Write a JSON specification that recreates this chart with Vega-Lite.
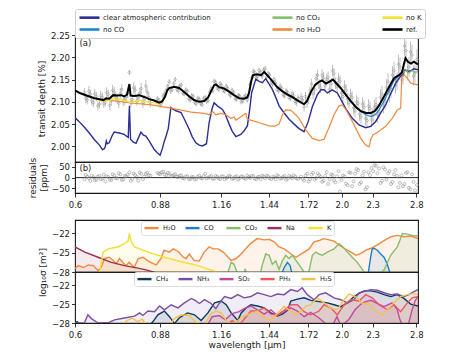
{
"$schema":"https://vega.github.io/schema/vega-lite/v6.json",
"padding":{"left":28,"top":7,"right":5,"bottom":5},
"config":{"font":"DejaVu Sans","view":{"stroke":"#1a1a1a","strokeWidth":1.1},
"axis":{"labelFont":"DejaVu Sans","titleFont":"DejaVu Sans","titleFontWeight":"normal","domain":false,"grid":false,"tickColor":"#222","labelColor":"#222","titleColor":"#222","labelFontSize":8.5,"titleFontSize":9,"tickSize":3.5,"tickWidth":0.9,"labelPadding":2,"titlePadding":4,"labelOverlap":false,"labelFlush":false},
"legend":{"labelFont":"DejaVu Sans","labelColor":"#222"},
"text":{"font":"DejaVu Sans"}},
"datasets":{
"obs":[
{"w":0.626,"d":2.121,"e":0.010,"r":-8},{"w":0.634,"d":2.104,"e":0.010,"r":5},{"w":0.643,"d":2.117,"e":0.011,"r":-15},{"w":0.652,"d":2.098,"e":0.010,"r":2},{"w":0.661,"d":2.112,"e":0.011,"r":-10},{"w":0.670,"d":2.095,"e":0.010,"r":8},{"w":0.679,"d":2.110,"e":0.011,"r":-5},{"w":0.688,"d":2.099,"e":0.010,"r":-18},{"w":0.697,"d":2.116,"e":0.012,"r":3},{"w":0.707,"d":2.103,"e":0.011,"r":-12},{"w":0.716,"d":2.122,"e":0.012,"r":10},{"w":0.726,"d":2.107,"e":0.011,"r":-4},{"w":0.736,"d":2.119,"e":0.012,"r":15},{"w":0.746,"d":2.101,"e":0.011,"r":-9},{"w":0.756,"d":2.112,"e":0.012,"r":6},{"w":0.767,"d":2.166,"e":0.006,"r":25},{"w":0.777,"d":2.105,"e":0.011,"r":-6},{"w":0.787,"d":2.126,"e":0.012,"r":12},{"w":0.798,"d":2.109,"e":0.011,"r":-14},{"w":0.809,"d":2.130,"e":0.013,"r":18},{"w":0.820,"d":2.104,"e":0.012,"r":4},{"w":0.831,"d":2.122,"e":0.012,"r":22},{"w":0.843,"d":2.098,"e":0.011,"r":9},
{"w":0.630,"d":2.108,"e":0.011,"r":12},{"w":0.639,"d":2.124,"e":0.012,"r":-3},{"w":0.647,"d":2.102,"e":0.010,"r":9},{"w":0.656,"d":2.118,"e":0.011,"r":-12},{"w":0.665,"d":2.091,"e":0.010,"r":4},{"w":0.674,"d":2.114,"e":0.011,"r":-7},{"w":0.683,"d":2.096,"e":0.010,"r":14},{"w":0.692,"d":2.121,"e":0.012,"r":6},{"w":0.702,"d":2.092,"e":0.011,"r":-9},{"w":0.711,"d":2.126,"e":0.012,"r":16},{"w":0.721,"d":2.110,"e":0.011,"r":-2},{"w":0.731,"d":2.097,"e":0.011,"r":20},{"w":0.741,"d":2.128,"e":0.012,"r":-11},{"w":0.751,"d":2.104,"e":0.011,"r":8},{"w":0.761,"d":2.120,"e":0.012,"r":13},{"w":0.772,"d":2.098,"e":0.011,"r":-15},{"w":0.782,"d":2.131,"e":0.013,"r":19},{"w":0.793,"d":2.102,"e":0.011,"r":2},{"w":0.804,"d":2.120,"e":0.012,"r":24},{"w":0.815,"d":2.098,"e":0.012,"r":-8},{"w":0.826,"d":2.136,"e":0.013,"r":17},{"w":0.837,"d":2.110,"e":0.012,"r":11},
{"w":0.870,"d":2.107,"e":0.006,"r":22},{"w":0.881,"d":2.092,"e":0.006,"r":16},{"w":0.893,"d":2.113,"e":0.006,"r":28},{"w":0.906,"d":2.126,"e":0.006,"r":12},{"w":0.918,"d":2.145,"e":0.006,"r":20},{"w":0.930,"d":2.128,"e":0.006,"r":8},{"w":0.943,"d":2.150,"e":0.006,"r":15},{"w":0.956,"d":2.125,"e":0.006,"r":2},{"w":0.969,"d":2.138,"e":0.006,"r":10},{"w":0.982,"d":2.118,"e":0.006,"r":-4},{"w":0.996,"d":2.124,"e":0.006,"r":6},{"w":1.009,"d":2.104,"e":0.006,"r":-8},{"w":1.023,"d":2.112,"e":0.006,"r":3},{"w":1.037,"d":2.096,"e":0.006,"r":-6},{"w":1.051,"d":2.106,"e":0.006,"r":9},{"w":1.065,"d":2.094,"e":0.006,"r":-3},{"w":1.080,"d":2.110,"e":0.006,"r":18},{"w":1.094,"d":2.103,"e":0.006,"r":0},{"w":1.109,"d":2.130,"e":0.006,"r":7},{"w":1.124,"d":2.146,"e":0.006,"r":-5},{"w":1.140,"d":2.131,"e":0.006,"r":4},{"w":1.155,"d":2.141,"e":0.006,"r":-7},{"w":1.171,"d":2.126,"e":0.006,"r":5},{"w":1.187,"d":2.135,"e":0.006,"r":-2},{"w":1.203,"d":2.118,"e":0.006,"r":8},{"w":1.219,"d":2.126,"e":0.006,"r":-6},{"w":1.236,"d":2.107,"e":0.006,"r":3},{"w":1.253,"d":2.114,"e":0.006,"r":-9},{"w":1.270,"d":2.100,"e":0.006,"r":6},{"w":1.287,"d":2.111,"e":0.006,"r":-3},{"w":1.305,"d":2.104,"e":0.007,"r":10},{"w":1.322,"d":2.139,"e":0.007,"r":-1},{"w":1.341,"d":2.168,"e":0.007,"r":7},{"w":1.359,"d":2.155,"e":0.007,"r":-8},{"w":1.377,"d":2.170,"e":0.007,"r":4},{"w":1.396,"d":2.158,"e":0.007,"r":9},{"w":1.415,"d":2.174,"e":0.007,"r":-4},{"w":1.434,"d":2.163,"e":0.007,"r":6},{"w":1.454,"d":2.144,"e":0.007,"r":-7},{"w":1.474,"d":2.150,"e":0.007,"r":2},{"w":1.494,"d":2.128,"e":0.007,"r":11},{"w":1.514,"d":2.135,"e":0.007,"r":-5},{"w":1.535,"d":2.116,"e":0.007,"r":3},{"w":1.556,"d":2.124,"e":0.007,"r":-10},{"w":1.577,"d":2.110,"e":0.007,"r":8},{"w":1.598,"d":2.118,"e":0.007,"r":-3},{"w":1.620,"d":2.101,"e":0.008,"r":5},{"w":1.642,"d":2.108,"e":0.008,"r":-6},
{"w":0.876,"d":2.104,"e":0.006,"r":18},{"w":0.887,"d":2.098,"e":0.006,"r":25},{"w":0.899,"d":2.118,"e":0.006,"r":14},{"w":0.912,"d":2.135,"e":0.006,"r":22},{"w":0.924,"d":2.124,"e":0.006,"r":6},{"w":0.937,"d":2.141,"e":0.006,"r":12},{"w":0.950,"d":2.128,"e":0.006,"r":4},{"w":0.962,"d":2.135,"e":0.006,"r":9},{"w":0.976,"d":2.120,"e":0.006,"r":-2},{"w":0.989,"d":2.127,"e":0.006,"r":5},{"w":1.003,"d":2.107,"e":0.006,"r":-5},{"w":1.016,"d":2.114,"e":0.006,"r":2},{"w":1.030,"d":2.099,"e":0.006,"r":-9},{"w":1.044,"d":2.108,"e":0.006,"r":4},{"w":1.058,"d":2.096,"e":0.006,"r":-2},{"w":1.072,"d":2.107,"e":0.006,"r":7},{"w":1.087,"d":2.101,"e":0.006,"r":-4},{"w":1.102,"d":2.122,"e":0.006,"r":3},{"w":1.117,"d":2.125,"e":0.006,"r":-6},{"w":1.132,"d":2.144,"e":0.006,"r":8},{"w":1.148,"d":2.128,"e":0.006,"r":-3},{"w":1.163,"d":2.137,"e":0.006,"r":6},{"w":1.179,"d":2.124,"e":0.006,"r":-8},{"w":1.195,"d":2.130,"e":0.006,"r":2},{"w":1.211,"d":2.114,"e":0.006,"r":5},{"w":1.228,"d":2.121,"e":0.006,"r":-4},{"w":1.244,"d":2.106,"e":0.006,"r":7},{"w":1.261,"d":2.113,"e":0.006,"r":-2},{"w":1.279,"d":2.102,"e":0.006,"r":4},{"w":1.296,"d":2.114,"e":0.006,"r":-6},{"w":1.314,"d":2.112,"e":0.007,"r":3},{"w":1.331,"d":2.154,"e":0.007,"r":8},{"w":1.350,"d":2.166,"e":0.007,"r":-5},{"w":1.368,"d":2.157,"e":0.007,"r":2},{"w":1.387,"d":2.166,"e":0.007,"r":-7},{"w":1.405,"d":2.171,"e":0.007,"r":5},{"w":1.425,"d":2.156,"e":0.007,"r":9},{"w":1.444,"d":2.160,"e":0.007,"r":-3},{"w":1.464,"d":2.140,"e":0.007,"r":4},{"w":1.484,"d":2.142,"e":0.007,"r":-8},{"w":1.504,"d":2.125,"e":0.007,"r":6},{"w":1.525,"d":2.130,"e":0.007,"r":-2},{"w":1.545,"d":2.114,"e":0.007,"r":8},{"w":1.566,"d":2.121,"e":0.007,"r":-5},{"w":1.588,"d":2.108,"e":0.007,"r":3},{"w":1.609,"d":2.114,"e":0.008,"r":10},{"w":1.631,"d":2.099,"e":0.008,"r":-4},
{"w":1.664,"d":2.110,"e":0.010,"r":4},{"w":1.687,"d":2.088,"e":0.010,"r":-14},{"w":1.710,"d":2.097,"e":0.011,"r":18},{"w":1.733,"d":2.125,"e":0.011,"r":-8},{"w":1.757,"d":2.118,"e":0.012,"r":22},{"w":1.781,"d":2.152,"e":0.012,"r":-2},{"w":1.805,"d":2.138,"e":0.012,"r":12},{"w":1.830,"d":2.160,"e":0.013,"r":-20},{"w":1.855,"d":2.136,"e":0.012,"r":8},{"w":1.880,"d":2.155,"e":0.013,"r":-30},{"w":1.906,"d":2.141,"e":0.012,"r":15},{"w":1.931,"d":2.163,"e":0.013,"r":-12},{"w":1.958,"d":2.134,"e":0.013,"r":6},{"w":1.984,"d":2.146,"e":0.013,"r":-65},{"w":2.011,"d":2.112,"e":0.013,"r":10},{"w":2.039,"d":2.126,"e":0.014,"r":-28},{"w":2.067,"d":2.098,"e":0.013,"r":25},{"w":2.095,"d":2.110,"e":0.014,"r":-40},{"w":2.123,"d":2.080,"e":0.014,"r":18},{"w":2.152,"d":2.096,"e":0.015,"r":35},{"w":2.181,"d":2.066,"e":0.015,"r":-22},{"w":2.211,"d":2.088,"e":0.015,"r":28},{"w":2.241,"d":2.058,"e":0.016,"r":-45},{"w":2.272,"d":2.085,"e":0.016,"r":12},{"w":2.303,"d":2.069,"e":0.016,"r":30},{"w":2.334,"d":2.094,"e":0.017,"r":55},{"w":2.366,"d":2.078,"e":0.017,"r":42},{"w":2.398,"d":2.118,"e":0.018,"r":-15},{"w":2.431,"d":2.101,"e":0.018,"r":38},{"w":2.464,"d":2.145,"e":0.019,"r":20},{"w":2.497,"d":2.128,"e":0.019,"r":-30},{"w":2.531,"d":2.170,"e":0.020,"r":15},{"w":2.566,"d":2.146,"e":0.020,"r":8},{"w":2.601,"d":2.178,"e":0.021,"r":-25},{"w":2.636,"d":2.160,"e":0.021,"r":-40},{"w":2.672,"d":2.215,"e":0.022,"r":22},{"w":2.708,"d":2.178,"e":0.022,"r":-48},{"w":2.745,"d":2.205,"e":0.023,"r":15},{"w":2.783,"d":2.165,"e":0.023,"r":-60},{"w":2.808,"d":2.195,"e":0.023,"r":-35},
{"w":1.676,"d":2.104,"e":0.010,"r":-6},{"w":1.698,"d":2.112,"e":0.011,"r":10},{"w":1.722,"d":2.108,"e":0.011,"r":-18},{"w":1.745,"d":2.140,"e":0.012,"r":14},{"w":1.769,"d":2.128,"e":0.012,"r":-10},{"w":1.793,"d":2.160,"e":0.012,"r":20},{"w":1.817,"d":2.132,"e":0.012,"r":3},{"w":1.842,"d":2.154,"e":0.013,"r":-15},{"w":1.868,"d":2.150,"e":0.013,"r":26},{"w":1.893,"d":2.128,"e":0.012,"r":-8},{"w":1.919,"d":2.170,"e":0.013,"r":12},{"w":1.944,"d":2.142,"e":0.013,"r":-22},{"w":1.971,"d":2.152,"e":0.013,"r":30},{"w":1.997,"d":2.120,"e":0.013,"r":-12},{"w":2.025,"d":2.134,"e":0.014,"r":5},{"w":2.053,"d":2.106,"e":0.014,"r":-35},{"w":2.081,"d":2.116,"e":0.014,"r":22},{"w":2.109,"d":2.086,"e":0.014,"r":-18},{"w":2.138,"d":2.100,"e":0.015,"r":40},{"w":2.167,"d":2.072,"e":0.015,"r":-30},{"w":2.196,"d":2.095,"e":0.015,"r":10},{"w":2.226,"d":2.063,"e":0.016,"r":-55},{"w":2.256,"d":2.090,"e":0.016,"r":25},{"w":2.287,"d":2.060,"e":0.016,"r":45},{"w":2.318,"d":2.088,"e":0.017,"r":58},{"w":2.350,"d":2.070,"e":0.017,"r":20},{"w":2.382,"d":2.110,"e":0.018,"r":-25},{"w":2.414,"d":2.092,"e":0.018,"r":48},{"w":2.447,"d":2.132,"e":0.019,"r":-10},{"w":2.481,"d":2.118,"e":0.019,"r":30},{"w":2.514,"d":2.160,"e":0.020,"r":-20},{"w":2.548,"d":2.138,"e":0.020,"r":35},{"w":2.583,"d":2.185,"e":0.021,"r":-45},{"w":2.619,"d":2.150,"e":0.021,"r":10},{"w":2.654,"d":2.225,"e":0.022,"r":-30},{"w":2.690,"d":2.170,"e":0.022,"r":25},{"w":2.727,"d":2.212,"e":0.023,"r":-55},{"w":2.764,"d":2.158,"e":0.023,"r":-20}
],
"amod":[
{"w":0.600,"v":2.065,"s":"clear"},{"w":0.612,"v":2.055,"s":"clear"},{"w":0.626,"v":2.043,"s":"clear"},{"w":0.640,"v":2.030,"s":"clear"},{"w":0.655,"v":2.015,"s":"clear"},{"w":0.670,"v":2.003,"s":"clear"},{"w":0.679,"v":1.993,"s":"clear"},{"w":0.685,"v":1.995,"s":"clear"},{"w":0.688,"v":2.000,"s":"clear"},{"w":0.691,"v":2.012,"s":"clear"},{"w":0.694,"v":2.006,"s":"clear"},{"w":0.700,"v":2.008,"s":"clear"},{"w":0.710,"v":2.025,"s":"clear"},{"w":0.716,"v":2.032,"s":"clear"},{"w":0.733,"v":2.030,"s":"clear"},{"w":0.749,"v":2.027,"s":"clear"},{"w":0.763,"v":2.020,"s":"clear"},{"w":0.767,"v":2.091,"s":"clear"},{"w":0.771,"v":2.016,"s":"clear"},{"w":0.780,"v":2.010,"s":"clear"},{"w":0.790,"v":2.007,"s":"clear"},{"w":0.798,"v":2.018,"s":"clear"},{"w":0.808,"v":2.032,"s":"clear"},{"w":0.816,"v":2.026,"s":"clear"},{"w":0.826,"v":2.023,"s":"clear"},{"w":0.839,"v":2.012,"s":"clear"},{"w":0.858,"v":1.993,"s":"clear"},{"w":0.870,"v":1.986,"s":"clear"},{"w":0.881,"v":1.980,"s":"clear"},{"w":0.890,"v":1.995,"s":"clear"},{"w":0.897,"v":2.010,"s":"clear"},{"w":0.906,"v":2.025,"s":"clear"},{"w":0.914,"v":2.040,"s":"clear"},{"w":0.925,"v":2.087,"s":"clear"},{"w":0.935,"v":2.083,"s":"clear"},{"w":0.946,"v":2.080,"s":"clear"},{"w":0.968,"v":2.076,"s":"clear"},{"w":0.982,"v":2.062,"s":"clear"},{"w":1.005,"v":2.038,"s":"clear"},{"w":1.018,"v":2.022,"s":"clear"},{"w":1.035,"v":2.008,"s":"clear"},{"w":1.051,"v":2.003,"s":"clear"},{"w":1.066,"v":2.001,"s":"clear"},{"w":1.086,"v":2.006,"s":"clear"},{"w":1.099,"v":2.053,"s":"clear"},{"w":1.114,"v":2.085,"s":"clear"},{"w":1.124,"v":2.098,"s":"clear"},{"w":1.141,"v":2.091,"s":"clear"},{"w":1.150,"v":2.088,"s":"clear"},{"w":1.167,"v":2.083,"s":"clear"},{"w":1.182,"v":2.072,"s":"clear"},{"w":1.203,"v":2.050,"s":"clear"},{"w":1.219,"v":2.035,"s":"clear"},{"w":1.240,"v":2.022,"s":"clear"},{"w":1.268,"v":2.027,"s":"clear"},{"w":1.287,"v":2.035,"s":"clear"},{"w":1.306,"v":2.046,"s":"clear"},{"w":1.319,"v":2.080,"s":"clear"},{"w":1.332,"v":2.121,"s":"clear"},{"w":1.357,"v":2.151,"s":"clear"},{"w":1.377,"v":2.146,"s":"clear"},{"w":1.398,"v":2.143,"s":"clear"},{"w":1.419,"v":2.152,"s":"clear"},{"w":1.441,"v":2.140,"s":"clear"},{"w":1.462,"v":2.128,"s":"clear"},{"w":1.485,"v":2.110,"s":"clear"},{"w":1.507,"v":2.091,"s":"clear"},{"w":1.542,"v":2.075,"s":"clear"},{"w":1.577,"v":2.061,"s":"clear"},{"w":1.613,"v":2.050,"s":"clear"},{"w":1.649,"v":2.040,"s":"clear"},{"w":1.687,"v":2.033,"s":"clear"},{"w":1.718,"v":2.055,"s":"clear"},{"w":1.751,"v":2.089,"s":"clear"},{"w":1.791,"v":2.116,"s":"clear"},{"w":1.821,"v":2.127,"s":"clear"},{"w":1.846,"v":2.127,"s":"clear"},{"w":1.874,"v":2.120,"s":"clear"},{"w":1.916,"v":2.127,"s":"clear"},{"w":1.960,"v":2.120,"s":"clear"},{"w":1.993,"v":2.105,"s":"clear"},{"w":2.036,"v":2.085,"s":"clear"},{"w":2.097,"v":2.063,"s":"clear"},{"w":2.162,"v":2.048,"s":"clear"},{"w":2.228,"v":2.042,"s":"clear"},{"w":2.279,"v":2.045,"s":"clear"},{"w":2.331,"v":2.056,"s":"clear"},{"w":2.384,"v":2.075,"s":"clear"},{"w":2.438,"v":2.093,"s":"clear"},{"w":2.494,"v":2.118,"s":"clear"},{"w":2.551,"v":2.142,"s":"clear"},{"w":2.609,"v":2.158,"s":"clear"},{"w":2.636,"v":2.161,"s":"clear"},{"w":2.660,"v":2.172,"s":"clear"},{"w":2.696,"v":2.168,"s":"clear"},{"w":2.733,"v":2.170,"s":"clear"},{"w":2.770,"v":2.174,"s":"clear"},{"w":2.821,"v":2.172,"s":"clear"},
{"w":0.600,"v":2.126,"s":"noH2O"},{"w":0.612,"v":2.120,"s":"noH2O"},{"w":0.626,"v":2.116,"s":"noH2O"},{"w":0.640,"v":2.112,"s":"noH2O"},{"w":0.655,"v":2.108,"s":"noH2O"},{"w":0.670,"v":2.106,"s":"noH2O"},{"w":0.700,"v":2.104,"s":"noH2O"},{"w":0.766,"v":2.098,"s":"noH2O"},{"w":0.846,"v":2.093,"s":"noH2O"},{"w":0.926,"v":2.086,"s":"noH2O"},{"w":1.014,"v":2.077,"s":"noH2O"},{"w":1.075,"v":2.074,"s":"noH2O"},{"w":1.099,"v":2.071,"s":"noH2O"},{"w":1.116,"v":2.078,"s":"noH2O"},{"w":1.133,"v":2.071,"s":"noH2O"},{"w":1.159,"v":2.074,"s":"noH2O"},{"w":1.185,"v":2.071,"s":"noH2O"},{"w":1.212,"v":2.063,"s":"noH2O"},{"w":1.230,"v":2.066,"s":"noH2O"},{"w":1.240,"v":2.059,"s":"noH2O"},{"w":1.259,"v":2.064,"s":"noH2O"},{"w":1.283,"v":2.071,"s":"noH2O"},{"w":1.297,"v":2.074,"s":"noH2O"},{"w":1.306,"v":2.061,"s":"noH2O"},{"w":1.336,"v":2.058,"s":"noH2O"},{"w":1.388,"v":2.052,"s":"noH2O"},{"w":1.441,"v":2.046,"s":"noH2O"},{"w":1.474,"v":2.045,"s":"noH2O"},{"w":1.507,"v":2.050,"s":"noH2O"},{"w":1.530,"v":2.071,"s":"noH2O"},{"w":1.553,"v":2.082,"s":"noH2O"},{"w":1.589,"v":2.081,"s":"noH2O"},{"w":1.625,"v":2.071,"s":"noH2O"},{"w":1.649,"v":2.063,"s":"noH2O"},{"w":1.700,"v":2.037,"s":"noH2O"},{"w":1.751,"v":2.018,"s":"noH2O"},{"w":1.805,"v":2.013,"s":"noH2O"},{"w":1.846,"v":2.016,"s":"noH2O"},{"w":1.903,"v":2.052,"s":"noH2O"},{"w":1.931,"v":2.071,"s":"noH2O"},{"w":1.975,"v":2.091,"s":"noH2O"},{"w":2.005,"v":2.093,"s":"noH2O"},{"w":2.036,"v":2.083,"s":"noH2O"},{"w":2.082,"v":2.063,"s":"noH2O"},{"w":2.130,"v":2.041,"s":"noH2O"},{"w":2.178,"v":2.018,"s":"noH2O"},{"w":2.228,"v":2.003,"s":"noH2O"},{"w":2.262,"v":1.999,"s":"noH2O"},{"w":2.279,"v":2.015,"s":"noH2O"},{"w":2.302,"v":2.026,"s":"noH2O"},{"w":2.331,"v":2.029,"s":"noH2O"},{"w":2.384,"v":2.037,"s":"noH2O"},{"w":2.438,"v":2.045,"s":"noH2O"},{"w":2.512,"v":2.063,"s":"noH2O"},{"w":2.569,"v":2.082,"s":"noH2O"},{"w":2.609,"v":2.086,"s":"noH2O"},{"w":2.621,"v":2.153,"s":"noH2O"},{"w":2.648,"v":2.161,"s":"noH2O"},{"w":2.688,"v":2.153,"s":"noH2O"},{"w":2.729,"v":2.142,"s":"noH2O"},{"w":2.821,"v":2.138,"s":"noH2O"},
{"w":2.133,"v":2.088,"s":"noCO"},{"w":2.181,"v":2.078,"s":"noCO"},{"w":2.231,"v":2.071,"s":"noCO"},{"w":2.282,"v":2.067,"s":"noCO"},{"w":2.324,"v":2.071,"s":"noCO"},{"w":2.366,"v":2.082,"s":"noCO"},{"w":2.420,"v":2.102,"s":"noCO"},{"w":2.475,"v":2.125,"s":"noCO"},{"w":2.531,"v":2.148,"s":"noCO"},{"w":2.589,"v":2.158,"s":"noCO"},
{"w":2.475,"v":2.133,"s":"noCO2"},{"w":2.531,"v":2.152,"s":"noCO2"},{"w":2.589,"v":2.159,"s":"noCO2"},{"w":2.624,"v":2.163,"s":"noCO2"},{"w":2.648,"v":2.168,"s":"noCO2"},{"w":2.672,"v":2.170,"s":"noCO2"},{"w":2.708,"v":2.165,"s":"noCO2"},{"w":2.745,"v":2.170,"s":"noCO2"},{"w":2.783,"v":2.166,"s":"noCO2"},{"w":2.821,"v":2.168,"s":"noCO2"},
{"w":0.655,"v":2.108,"s":"noK"},{"w":0.670,"v":2.104,"s":"noK"},{"w":0.682,"v":2.100,"s":"noK"},{"w":0.691,"v":2.103,"s":"noK"},{"w":0.700,"v":2.102,"s":"noK"},{"w":0.713,"v":2.107,"s":"noK"},{"w":0.726,"v":2.106,"s":"noK"},{"w":0.739,"v":2.106,"s":"noK"},{"w":0.749,"v":2.102,"s":"noK"},{"w":0.759,"v":2.101,"s":"noK"},{"w":0.770,"v":2.099,"s":"noK"},{"w":0.784,"v":2.101,"s":"noK"},{"w":0.802,"v":2.104,"s":"noK"},{"w":0.820,"v":2.101,"s":"noK"},{"w":0.839,"v":2.099,"s":"noK"},{"w":0.858,"v":2.098,"s":"noK"},{"w":0.877,"v":2.095,"s":"noK"},{"w":0.889,"v":2.099,"s":"noK"},{"w":0.901,"v":2.110,"s":"noK"},{"w":0.910,"v":2.126,"s":"noK"},{"w":0.918,"v":2.131,"s":"noK"},
{"w":0.600,"v":2.126,"s":"ref"},{"w":0.612,"v":2.120,"s":"ref"},{"w":0.626,"v":2.116,"s":"ref"},{"w":0.640,"v":2.112,"s":"ref"},{"w":0.655,"v":2.108,"s":"ref"},{"w":0.670,"v":2.106,"s":"ref"},{"w":0.682,"v":2.104,"s":"ref"},{"w":0.691,"v":2.108,"s":"ref"},{"w":0.700,"v":2.107,"s":"ref"},{"w":0.713,"v":2.115,"s":"ref"},{"w":0.726,"v":2.114,"s":"ref"},{"w":0.739,"v":2.115,"s":"ref"},{"w":0.749,"v":2.112,"s":"ref"},{"w":0.759,"v":2.116,"s":"ref"},{"w":0.767,"v":2.140,"s":"ref"},{"w":0.771,"v":2.114,"s":"ref"},{"w":0.784,"v":2.113,"s":"ref"},{"w":0.802,"v":2.115,"s":"ref"},{"w":0.820,"v":2.111,"s":"ref"},{"w":0.839,"v":2.106,"s":"ref"},{"w":0.858,"v":2.103,"s":"ref"},{"w":0.877,"v":2.098,"s":"ref"},{"w":0.889,"v":2.101,"s":"ref"},{"w":0.901,"v":2.112,"s":"ref"},{"w":0.910,"v":2.126,"s":"ref"},{"w":0.918,"v":2.131,"s":"ref"},{"w":0.939,"v":2.134,"s":"ref"},{"w":0.960,"v":2.131,"s":"ref"},{"w":0.982,"v":2.122,"s":"ref"},{"w":1.005,"v":2.112,"s":"ref"},{"w":1.027,"v":2.104,"s":"ref"},{"w":1.051,"v":2.100,"s":"ref"},{"w":1.075,"v":2.102,"s":"ref"},{"w":1.094,"v":2.110,"s":"ref"},{"w":1.109,"v":2.124,"s":"ref"},{"w":1.124,"v":2.137,"s":"ref"},{"w":1.134,"v":2.139,"s":"ref"},{"w":1.150,"v":2.133,"s":"ref"},{"w":1.176,"v":2.130,"s":"ref"},{"w":1.203,"v":2.123,"s":"ref"},{"w":1.230,"v":2.115,"s":"ref"},{"w":1.259,"v":2.108,"s":"ref"},{"w":1.287,"v":2.107,"s":"ref"},{"w":1.305,"v":2.110,"s":"ref"},{"w":1.316,"v":2.120,"s":"ref"},{"w":1.328,"v":2.145,"s":"ref"},{"w":1.340,"v":2.160,"s":"ref"},{"w":1.365,"v":2.162,"s":"ref"},{"w":1.390,"v":2.160,"s":"ref"},{"w":1.409,"v":2.167,"s":"ref"},{"w":1.428,"v":2.160,"s":"ref"},{"w":1.454,"v":2.150,"s":"ref"},{"w":1.494,"v":2.133,"s":"ref"},{"w":1.528,"v":2.124,"s":"ref"},{"w":1.563,"v":2.117,"s":"ref"},{"w":1.598,"v":2.111,"s":"ref"},{"w":1.635,"v":2.104,"s":"ref"},{"w":1.672,"v":2.097,"s":"ref"},{"w":1.687,"v":2.095,"s":"ref"},{"w":1.710,"v":2.102,"s":"ref"},{"w":1.741,"v":2.123,"s":"ref"},{"w":1.773,"v":2.138,"s":"ref"},{"w":1.805,"v":2.145,"s":"ref"},{"w":1.829,"v":2.148,"s":"ref"},{"w":1.863,"v":2.141,"s":"ref"},{"w":1.888,"v":2.145,"s":"ref"},{"w":1.922,"v":2.150,"s":"ref"},{"w":1.957,"v":2.140,"s":"ref"},{"w":1.993,"v":2.130,"s":"ref"},{"w":2.039,"v":2.115,"s":"ref"},{"w":2.085,"v":2.101,"s":"ref"},{"w":2.133,"v":2.088,"s":"ref"},{"w":2.181,"v":2.079,"s":"ref"},{"w":2.231,"v":2.075,"s":"ref"},{"w":2.282,"v":2.075,"s":"ref"},{"w":2.324,"v":2.080,"s":"ref"},{"w":2.366,"v":2.092,"s":"ref"},{"w":2.420,"v":2.112,"s":"ref"},{"w":2.475,"v":2.133,"s":"ref"},{"w":2.531,"v":2.153,"s":"ref"},{"w":2.589,"v":2.160,"s":"ref"},{"w":2.624,"v":2.166,"s":"ref"},{"w":2.648,"v":2.185,"s":"ref"},{"w":2.666,"v":2.198,"s":"ref"},{"w":2.696,"v":2.190,"s":"ref"},{"w":2.733,"v":2.186,"s":"ref"},{"w":2.770,"v":2.190,"s":"ref"},{"w":2.821,"v":2.184,"s":"ref"}
],
"csp":[
{"w":0.600,"v":-27.5,"sp":"H₂O"},{"w":0.609,"v":-27.0,"sp":"H₂O"},{"w":0.623,"v":-27.3,"sp":"H₂O"},{"w":0.637,"v":-26.9,"sp":"H₂O"},{"w":0.652,"v":-27.0,"sp":"H₂O"},{"w":0.666,"v":-27.8,"sp":"H₂O"},{"w":0.676,"v":-27.2,"sp":"H₂O"},{"w":0.685,"v":-25.9,"sp":"H₂O"},{"w":0.700,"v":-25.7,"sp":"H₂O"},{"w":0.713,"v":-26.2,"sp":"H₂O"},{"w":0.723,"v":-26.7,"sp":"H₂O"},{"w":0.733,"v":-25.9,"sp":"H₂O"},{"w":0.746,"v":-26.6,"sp":"H₂O"},{"w":0.756,"v":-27.0,"sp":"H₂O"},{"w":0.766,"v":-26.5,"sp":"H₂O"},{"w":0.784,"v":-27.3,"sp":"H₂O"},{"w":0.798,"v":-25.9,"sp":"H₂O"},{"w":0.816,"v":-25.7,"sp":"H₂O"},{"w":0.835,"v":-26.3,"sp":"H₂O"},{"w":0.854,"v":-26.7,"sp":"H₂O"},{"w":0.866,"v":-26.9,"sp":"H₂O"},{"w":0.885,"v":-25.9,"sp":"H₂O"},{"w":0.897,"v":-24.6,"sp":"H₂O"},{"w":0.918,"v":-24.9,"sp":"H₂O"},{"w":0.935,"v":-24.4,"sp":"H₂O"},{"w":0.956,"v":-24.8,"sp":"H₂O"},{"w":0.978,"v":-25.7,"sp":"H₂O"},{"w":0.991,"v":-25.9,"sp":"H₂O"},{"w":1.005,"v":-25.2,"sp":"H₂O"},{"w":1.027,"v":-26.2,"sp":"H₂O"},{"w":1.051,"v":-26.3,"sp":"H₂O"},{"w":1.075,"v":-24.9,"sp":"H₂O"},{"w":1.099,"v":-24.1,"sp":"H₂O"},{"w":1.119,"v":-24.4,"sp":"H₂O"},{"w":1.145,"v":-24.4,"sp":"H₂O"},{"w":1.171,"v":-24.9,"sp":"H₂O"},{"w":1.198,"v":-25.7,"sp":"H₂O"},{"w":1.214,"v":-26.2,"sp":"H₂O"},{"w":1.242,"v":-25.9,"sp":"H₂O"},{"w":1.270,"v":-25.2,"sp":"H₂O"},{"w":1.299,"v":-24.3,"sp":"H₂O"},{"w":1.328,"v":-23.5,"sp":"H₂O"},{"w":1.365,"v":-22.8,"sp":"H₂O"},{"w":1.409,"v":-23.0,"sp":"H₂O"},{"w":1.441,"v":-22.9,"sp":"H₂O"},{"w":1.474,"v":-23.3,"sp":"H₂O"},{"w":1.507,"v":-24.1,"sp":"H₂O"},{"w":1.542,"v":-24.4,"sp":"H₂O"},{"w":1.591,"v":-25.2,"sp":"H₂O"},{"w":1.627,"v":-25.7,"sp":"H₂O"},{"w":1.649,"v":-25.4,"sp":"H₂O"},{"w":1.687,"v":-24.9,"sp":"H₂O"},{"w":1.726,"v":-24.4,"sp":"H₂O"},{"w":1.765,"v":-23.3,"sp":"H₂O"},{"w":1.805,"v":-23.1,"sp":"H₂O"},{"w":1.846,"v":-22.8,"sp":"H₂O"},{"w":1.888,"v":-23.0,"sp":"H₂O"},{"w":1.931,"v":-23.2,"sp":"H₂O"},{"w":1.975,"v":-23.8,"sp":"H₂O"},{"w":2.021,"v":-24.3,"sp":"H₂O"},{"w":2.085,"v":-24.9,"sp":"H₂O"},{"w":2.133,"v":-25.4,"sp":"H₂O"},{"w":2.181,"v":-25.1,"sp":"H₂O"},{"w":2.231,"v":-24.6,"sp":"H₂O"},{"w":2.282,"v":-24.3,"sp":"H₂O"},{"w":2.345,"v":-23.8,"sp":"H₂O"},{"w":2.420,"v":-23.1,"sp":"H₂O"},{"w":2.497,"v":-22.5,"sp":"H₂O"},{"w":2.566,"v":-22.3,"sp":"H₂O"},{"w":2.648,"v":-22.5,"sp":"H₂O"},{"w":2.733,"v":-22.4,"sp":"H₂O"},{"w":2.821,"v":-22.8,"sp":"H₂O"},
{"w":1.521,"v":-28.5,"sp":"CO"},{"w":1.542,"v":-27.3,"sp":"CO"},{"w":1.565,"v":-26.5,"sp":"CO"},{"w":1.584,"v":-27.0,"sp":"CO"},{"w":1.600,"v":-28.5,"sp":"CO"},{"w":2.251,"v":-28.5,"sp":"CO"},{"w":2.279,"v":-25.6,"sp":"CO"},{"w":2.295,"v":-24.4,"sp":"CO"},{"w":2.313,"v":-24.3,"sp":"CO"},{"w":2.348,"v":-24.6,"sp":"CO"},{"w":2.384,"v":-25.2,"sp":"CO"},{"w":2.420,"v":-25.7,"sp":"CO"},{"w":2.456,"v":-26.8,"sp":"CO"},{"w":2.494,"v":-28.5,"sp":"CO"},
{"w":1.182,"v":-28.5,"sp":"CO₂"},{"w":1.198,"v":-27.9,"sp":"CO₂"},{"w":1.214,"v":-26.5,"sp":"CO₂"},{"w":1.230,"v":-26.8,"sp":"CO₂"},{"w":1.253,"v":-28.5,"sp":"CO₂"},{"w":1.281,"v":-28.5,"sp":"CO₂"},{"w":1.293,"v":-27.6,"sp":"CO₂"},{"w":1.311,"v":-28.5,"sp":"CO₂"},{"w":1.383,"v":-28.5,"sp":"CO₂"},{"w":1.396,"v":-27.0,"sp":"CO₂"},{"w":1.419,"v":-25.2,"sp":"CO₂"},{"w":1.441,"v":-25.4,"sp":"CO₂"},{"w":1.462,"v":-26.8,"sp":"CO₂"},{"w":1.485,"v":-26.3,"sp":"CO₂"},{"w":1.507,"v":-27.6,"sp":"CO₂"},{"w":1.530,"v":-26.2,"sp":"CO₂"},{"w":1.553,"v":-25.4,"sp":"CO₂"},{"w":1.577,"v":-25.9,"sp":"CO₂"},{"w":1.600,"v":-25.4,"sp":"CO₂"},{"w":1.637,"v":-26.5,"sp":"CO₂"},{"w":1.674,"v":-27.6,"sp":"CO₂"},{"w":1.700,"v":-28.5,"sp":"CO₂"},{"w":1.726,"v":-27.8,"sp":"CO₂"},{"w":1.751,"v":-25.4,"sp":"CO₂"},{"w":1.778,"v":-24.9,"sp":"CO₂"},{"w":1.805,"v":-25.2,"sp":"CO₂"},{"w":1.832,"v":-25.4,"sp":"CO₂"},{"w":1.874,"v":-24.9,"sp":"CO₂"},{"w":1.931,"v":-24.4,"sp":"CO₂"},{"w":1.975,"v":-23.6,"sp":"CO₂"},{"w":2.005,"v":-24.0,"sp":"CO₂"},{"w":2.051,"v":-24.9,"sp":"CO₂"},{"w":2.097,"v":-25.7,"sp":"CO₂"},{"w":2.145,"v":-26.5,"sp":"CO₂"},{"w":2.194,"v":-27.6,"sp":"CO₂"},{"w":2.231,"v":-28.5,"sp":"CO₂"},{"w":2.345,"v":-28.5,"sp":"CO₂"},{"w":2.420,"v":-27.7,"sp":"CO₂"},{"w":2.494,"v":-25.4,"sp":"CO₂"},{"w":2.569,"v":-24.1,"sp":"CO₂"},{"w":2.601,"v":-23.0,"sp":"CO₂"},{"w":2.628,"v":-22.0,"sp":"CO₂"},{"w":2.688,"v":-22.1,"sp":"CO₂"},{"w":2.749,"v":-22.3,"sp":"CO₂"},{"w":2.821,"v":-22.4,"sp":"CO₂"},
{"w":0.600,"v":-24.1,"sp":"Na"},{"w":0.627,"v":-24.9,"sp":"Na"},{"w":0.666,"v":-25.7,"sp":"Na"},{"w":0.707,"v":-26.5,"sp":"Na"},{"w":0.750,"v":-27.0,"sp":"Na"},{"w":0.797,"v":-27.4,"sp":"Na"},{"w":0.831,"v":-27.7,"sp":"Na"},{"w":0.859,"v":-28.05,"sp":"Na"},{"w":0.897,"v":-28.5,"sp":"Na"},
{"w":0.664,"v":-28.5,"sp":"K"},{"w":0.671,"v":-28.0,"sp":"K"},{"w":0.681,"v":-24.9,"sp":"K"},{"w":0.696,"v":-24.4,"sp":"K"},{"w":0.728,"v":-24.1,"sp":"K"},{"w":0.750,"v":-23.6,"sp":"K"},{"w":0.762,"v":-23.2,"sp":"K"},{"w":0.767,"v":-22.0,"sp":"K"},{"w":0.773,"v":-23.3,"sp":"K"},{"w":0.785,"v":-24.1,"sp":"K"},{"w":0.834,"v":-24.9,"sp":"K"},{"w":0.898,"v":-25.7,"sp":"K"},{"w":0.969,"v":-26.4,"sp":"K"},{"w":1.045,"v":-27.0,"sp":"K"},{"w":1.109,"v":-27.7,"sp":"K"},{"w":1.145,"v":-28.05,"sp":"K"},{"w":1.176,"v":-28.5,"sp":"K"}
],
"dsp":[
{"w":0.600,"v":-28.0,"sp":"CH₄"},{"w":0.606,"v":-27.8,"sp":"CH₄"},{"w":0.617,"v":-28.5,"sp":"CH₄"},{"w":0.839,"v":-28.5,"sp":"CH₄"},{"w":0.858,"v":-27.5,"sp":"CH₄"},{"w":0.872,"v":-26.7,"sp":"CH₄"},{"w":0.898,"v":-26.1,"sp":"CH₄"},{"w":0.919,"v":-27.0,"sp":"CH₄"},{"w":0.940,"v":-28.1,"sp":"CH₄"},{"w":0.960,"v":-27.2,"sp":"CH₄"},{"w":0.997,"v":-26.4,"sp":"CH₄"},{"w":1.029,"v":-26.7,"sp":"CH₄"},{"w":1.060,"v":-27.6,"sp":"CH₄"},{"w":1.093,"v":-26.4,"sp":"CH₄"},{"w":1.126,"v":-24.8,"sp":"CH₄"},{"w":1.160,"v":-24.5,"sp":"CH₄"},{"w":1.187,"v":-25.1,"sp":"CH₄"},{"w":1.214,"v":-26.4,"sp":"CH₄"},{"w":1.251,"v":-27.6,"sp":"CH₄"},{"w":1.270,"v":-26.4,"sp":"CH₄"},{"w":1.299,"v":-25.6,"sp":"CH₄"},{"w":1.327,"v":-25.1,"sp":"CH₄"},{"w":1.367,"v":-25.3,"sp":"CH₄"},{"w":1.409,"v":-25.6,"sp":"CH₄"},{"w":1.452,"v":-26.4,"sp":"CH₄"},{"w":1.496,"v":-26.9,"sp":"CH₄"},{"w":1.530,"v":-26.6,"sp":"CH₄"},{"w":1.565,"v":-26.0,"sp":"CH₄"},{"w":1.589,"v":-24.5,"sp":"CH₄"},{"w":1.637,"v":-24.2,"sp":"CH₄"},{"w":1.687,"v":-24.0,"sp":"CH₄"},{"w":1.739,"v":-24.4,"sp":"CH₄"},{"w":1.805,"v":-24.6,"sp":"CH₄"},{"w":1.874,"v":-24.8,"sp":"CH₄"},{"w":1.931,"v":-25.1,"sp":"CH₄"},{"w":1.991,"v":-25.4,"sp":"CH₄"},{"w":2.051,"v":-24.8,"sp":"CH₄"},{"w":2.114,"v":-23.8,"sp":"CH₄"},{"w":2.162,"v":-23.3,"sp":"CH₄"},{"w":2.211,"v":-22.9,"sp":"CH₄"},{"w":2.279,"v":-22.9,"sp":"CH₄"},{"w":2.348,"v":-23.1,"sp":"CH₄"},{"w":2.420,"v":-23.5,"sp":"CH₄"},{"w":2.494,"v":-23.8,"sp":"CH₄"},{"w":2.569,"v":-23.5,"sp":"CH₄"},{"w":2.648,"v":-24.1,"sp":"CH₄"},{"w":2.729,"v":-25.0,"sp":"CH₄"},{"w":2.821,"v":-25.3,"sp":"CH₄"},
{"w":0.600,"v":-28.0,"sp":"NH₃"},{"w":0.626,"v":-28.0,"sp":"NH₃"},{"w":0.636,"v":-26.7,"sp":"NH₃"},{"w":0.646,"v":-27.3,"sp":"NH₃"},{"w":0.666,"v":-28.0,"sp":"NH₃"},{"w":0.700,"v":-27.9,"sp":"NH₃"},{"w":0.717,"v":-27.5,"sp":"NH₃"},{"w":0.750,"v":-27.2,"sp":"NH₃"},{"w":0.785,"v":-26.9,"sp":"NH₃"},{"w":0.803,"v":-26.4,"sp":"NH₃"},{"w":0.815,"v":-26.8,"sp":"NH₃"},{"w":0.834,"v":-26.1,"sp":"NH₃"},{"w":0.859,"v":-26.2,"sp":"NH₃"},{"w":0.879,"v":-25.3,"sp":"NH₃"},{"w":0.898,"v":-25.9,"sp":"NH₃"},{"w":0.926,"v":-25.1,"sp":"NH₃"},{"w":0.955,"v":-25.6,"sp":"NH₃"},{"w":0.983,"v":-24.8,"sp":"NH₃"},{"w":1.014,"v":-24.1,"sp":"NH₃"},{"w":1.032,"v":-24.4,"sp":"NH₃"},{"w":1.052,"v":-24.9,"sp":"NH₃"},{"w":1.076,"v":-24.3,"sp":"NH₃"},{"w":1.109,"v":-24.9,"sp":"NH₃"},{"w":1.133,"v":-25.7,"sp":"NH₃"},{"w":1.150,"v":-24.9,"sp":"NH₃"},{"w":1.178,"v":-23.8,"sp":"NH₃"},{"w":1.214,"v":-24.1,"sp":"NH₃"},{"w":1.251,"v":-23.5,"sp":"NH₃"},{"w":1.287,"v":-24.0,"sp":"NH₃"},{"w":1.327,"v":-23.8,"sp":"NH₃"},{"w":1.367,"v":-23.2,"sp":"NH₃"},{"w":1.409,"v":-23.5,"sp":"NH₃"},{"w":1.452,"v":-23.8,"sp":"NH₃"},{"w":1.496,"v":-23.4,"sp":"NH₃"},{"w":1.542,"v":-23.5,"sp":"NH₃"},{"w":1.589,"v":-22.7,"sp":"NH₃"},{"w":1.637,"v":-23.0,"sp":"NH₃"},{"w":1.672,"v":-22.4,"sp":"NH₃"},{"w":1.712,"v":-23.5,"sp":"NH₃"},{"w":1.765,"v":-24.3,"sp":"NH₃"},{"w":1.805,"v":-23.5,"sp":"NH₃"},{"w":1.860,"v":-23.2,"sp":"NH₃"},{"w":1.931,"v":-24.0,"sp":"NH₃"},{"w":1.991,"v":-24.3,"sp":"NH₃"},{"w":2.051,"v":-24.8,"sp":"NH₃"},{"w":2.114,"v":-24.3,"sp":"NH₃"},{"w":2.162,"v":-23.2,"sp":"NH₃"},{"w":2.211,"v":-23.0,"sp":"NH₃"},{"w":2.279,"v":-22.7,"sp":"NH₃"},{"w":2.348,"v":-22.8,"sp":"NH₃"},{"w":2.420,"v":-23.2,"sp":"NH₃"},{"w":2.494,"v":-23.5,"sp":"NH₃"},{"w":2.569,"v":-23.4,"sp":"NH₃"},{"w":2.648,"v":-23.8,"sp":"NH₃"},{"w":2.708,"v":-23.5,"sp":"NH₃"},{"w":2.770,"v":-23.0,"sp":"NH₃"},{"w":2.821,"v":-22.7,"sp":"NH₃"},
{"w":1.089,"v":-28.5,"sp":"SO₂"},{"w":1.114,"v":-27.0,"sp":"SO₂"},{"w":1.150,"v":-26.8,"sp":"SO₂"},{"w":1.182,"v":-27.5,"sp":"SO₂"},{"w":1.219,"v":-26.5,"sp":"SO₂"},{"w":1.259,"v":-26.2,"sp":"SO₂"},{"w":1.287,"v":-25.7,"sp":"SO₂"},{"w":1.327,"v":-25.3,"sp":"SO₂"},{"w":1.367,"v":-25.9,"sp":"SO₂"},{"w":1.409,"v":-26.6,"sp":"SO₂"},{"w":1.452,"v":-25.9,"sp":"SO₂"},{"w":1.496,"v":-26.8,"sp":"SO₂"},{"w":1.542,"v":-26.2,"sp":"SO₂"},{"w":1.589,"v":-25.6,"sp":"SO₂"},{"w":1.637,"v":-26.1,"sp":"SO₂"},{"w":1.687,"v":-27.0,"sp":"SO₂"},{"w":1.739,"v":-26.3,"sp":"SO₂"},{"w":1.805,"v":-27.2,"sp":"SO₂"},{"w":1.860,"v":-28.1,"sp":"SO₂"},{"w":1.914,"v":-28.5,"sp":"SO₂"},{"w":1.957,"v":-27.0,"sp":"SO₂"},{"w":1.993,"v":-28.5,"sp":"SO₂"},{"w":2.067,"v":-27.4,"sp":"SO₂"},{"w":2.123,"v":-25.9,"sp":"SO₂"},{"w":2.181,"v":-25.0,"sp":"SO₂"},{"w":2.228,"v":-24.6,"sp":"SO₂"},{"w":2.282,"v":-24.4,"sp":"SO₂"},{"w":2.345,"v":-24.9,"sp":"SO₂"},{"w":2.420,"v":-25.4,"sp":"SO₂"},{"w":2.508,"v":-24.8,"sp":"SO₂"},{"w":2.566,"v":-25.8,"sp":"SO₂"},{"w":2.601,"v":-27.5,"sp":"SO₂"},{"w":2.636,"v":-28.5,"sp":"SO₂"},{"w":2.696,"v":-28.5,"sp":"SO₂"},{"w":2.745,"v":-26.0,"sp":"SO₂"},{"w":2.783,"v":-24.5,"sp":"SO₂"},{"w":2.821,"v":-23.8,"sp":"SO₂"},
{"w":1.176,"v":-28.5,"sp":"PH₃"},{"w":1.219,"v":-27.6,"sp":"PH₃"},{"w":1.259,"v":-28.3,"sp":"PH₃"},{"w":1.299,"v":-27.0,"sp":"PH₃"},{"w":1.327,"v":-26.1,"sp":"PH₃"},{"w":1.367,"v":-26.1,"sp":"PH₃"},{"w":1.409,"v":-25.6,"sp":"PH₃"},{"w":1.452,"v":-26.6,"sp":"PH₃"},{"w":1.496,"v":-26.7,"sp":"PH₃"},{"w":1.542,"v":-26.0,"sp":"PH₃"},{"w":1.589,"v":-25.1,"sp":"PH₃"},{"w":1.637,"v":-25.1,"sp":"PH₃"},{"w":1.687,"v":-26.2,"sp":"PH₃"},{"w":1.739,"v":-26.7,"sp":"PH₃"},{"w":1.805,"v":-26.1,"sp":"PH₃"},{"w":1.846,"v":-25.1,"sp":"PH₃"},{"w":1.903,"v":-25.6,"sp":"PH₃"},{"w":1.960,"v":-26.7,"sp":"PH₃"},{"w":2.021,"v":-25.1,"sp":"PH₃"},{"w":2.082,"v":-24.3,"sp":"PH₃"},{"w":2.162,"v":-24.5,"sp":"PH₃"},{"w":2.228,"v":-23.5,"sp":"PH₃"},{"w":2.295,"v":-24.0,"sp":"PH₃"},{"w":2.366,"v":-25.1,"sp":"PH₃"},{"w":2.456,"v":-25.9,"sp":"PH₃"},{"w":2.531,"v":-25.1,"sp":"PH₃"},{"w":2.609,"v":-26.2,"sp":"PH₃"},{"w":2.688,"v":-24.8,"sp":"PH₃"},{"w":2.749,"v":-24.0,"sp":"PH₃"},{"w":2.821,"v":-23.8,"sp":"PH₃"},
{"w":0.733,"v":-28.5,"sp":"H₂S"},{"w":0.759,"v":-27.6,"sp":"H₂S"},{"w":0.777,"v":-27.2,"sp":"H₂S"},{"w":0.795,"v":-27.8,"sp":"H₂S"},{"w":0.813,"v":-27.4,"sp":"H₂S"},{"w":0.831,"v":-28.5,"sp":"H₂S"},{"w":0.918,"v":-28.5,"sp":"H₂S"},{"w":0.939,"v":-27.3,"sp":"H₂S"},{"w":0.969,"v":-26.7,"sp":"H₂S"},{"w":1.005,"v":-26.8,"sp":"H₂S"},{"w":1.032,"v":-27.8,"sp":"H₂S"},{"w":1.075,"v":-28.3,"sp":"H₂S"},{"w":1.109,"v":-26.5,"sp":"H₂S"},{"w":1.134,"v":-26.1,"sp":"H₂S"},{"w":1.160,"v":-26.4,"sp":"H₂S"},{"w":1.187,"v":-27.6,"sp":"H₂S"},{"w":1.219,"v":-28.3,"sp":"H₂S"},{"w":1.259,"v":-27.4,"sp":"H₂S"},{"w":1.287,"v":-26.9,"sp":"H₂S"},{"w":1.327,"v":-26.5,"sp":"H₂S"},{"w":1.367,"v":-26.1,"sp":"H₂S"},{"w":1.409,"v":-27.1,"sp":"H₂S"},{"w":1.452,"v":-27.6,"sp":"H₂S"},{"w":1.496,"v":-26.5,"sp":"H₂S"},{"w":1.542,"v":-25.35,"sp":"H₂S"},{"w":1.589,"v":-26.1,"sp":"H₂S"},{"w":1.637,"v":-26.7,"sp":"H₂S"},{"w":1.700,"v":-25.35,"sp":"H₂S"},{"w":1.739,"v":-25.1,"sp":"H₂S"},{"w":1.791,"v":-24.0,"sp":"H₂S"},{"w":1.846,"v":-24.8,"sp":"H₂S"},{"w":1.903,"v":-25.6,"sp":"H₂S"},{"w":1.960,"v":-25.9,"sp":"H₂S"},{"w":2.021,"v":-24.3,"sp":"H₂S"},{"w":2.067,"v":-23.4,"sp":"H₂S"},{"w":2.130,"v":-23.8,"sp":"H₂S"},{"w":2.194,"v":-24.9,"sp":"H₂S"},{"w":2.262,"v":-24.9,"sp":"H₂S"},{"w":2.331,"v":-26.1,"sp":"H₂S"},{"w":2.401,"v":-26.7,"sp":"H₂S"},{"w":2.475,"v":-25.6,"sp":"H₂S"},{"w":2.551,"v":-24.5,"sp":"H₂S"},{"w":2.609,"v":-23.8,"sp":"H₂S"},{"w":2.688,"v":-23.5,"sp":"H₂S"},{"w":2.770,"v":-23.3,"sp":"H₂S"},{"w":2.821,"v":-23.5,"sp":"H₂S"}
]
},
"resolve":{"scale":{"color":"independent"},"legend":{"color":"independent"}},
"spacing":9,
"vconcat":[
{"vconcat":[
{"width":343,"height":127,
"encoding":{"x":{"type":"quantitative","scale":{"type":"log","domain":[0.6,2.821],"nice":false},"axis":null},
"y":{"type":"quantitative","scale":{"domain":[1.965,2.25],"nice":false,"zero":false},"axis":{"values":[2.0,2.05,2.1,2.15,2.2,2.25],"format":".2f","title":"transit depth [%]","labelOverlap":false}}},
"layer":[
{"data":{"name":"obs"},"mark":{"type":"errorbar","color":"#a5a5a5","thickness":0.7},
"encoding":{"x":{"field":"w","type":"quantitative"},"y":{"field":"d","type":"quantitative"},"yError":{"field":"e"}}},
{"data":{"name":"obs"},"mark":{"type":"point","shape":"diamond","filled":false,"size":9,"color":"#8a8a8a","strokeWidth":0.55,"opacity":1},
"encoding":{"x":{"field":"w","type":"quantitative"},"y":{"field":"d","type":"quantitative"}}},
{"data":{"name":"amod"},"transform":[{"filter":"datum.s=='clear'"}],"mark":{"type":"line","strokeWidth":1.4,"clip":true},
"encoding":{"x":{"field":"w","type":"quantitative"},"y":{"field":"v","type":"quantitative"},
"color":{"field":"s","type":"nominal","scale":{"domain":["clear","noCO2","noK","noCO","noH2O","ref"],"range":["#2b2e92","#82c06f","#f3e22e","#1f86d0","#f08a3e","#000000"]},
"legend":{"title":null,"orient":"none","legendX":0,"legendY":-26,"direction":"horizontal","columns":3,"symbolType":"M-1,0H4","symbolStrokeWidth":2.6,"symbolSize":64,"labelFontSize":7,"labelOffset":14,"columnPadding":56,"rowPadding":1,"padding":3,"strokeColor":"#d0d0d0","fillColor":"#ffffff","cornerRadius":2,
"labelExpr":"datum.label=='clear'?'clear atmospheric contribution':datum.label=='noCO'?'no CO':datum.label=='noCO2'?'no CO₂':datum.label=='noH2O'?'no H₂O':datum.label=='noK'?'no K':'ref.'"}}}},
{"data":{"name":"amod"},"transform":[{"filter":"datum.s=='noH2O'"}],"mark":{"type":"line","strokeWidth":1.2,"clip":true},
"encoding":{"x":{"field":"w","type":"quantitative"},"y":{"field":"v","type":"quantitative"},"color":{"field":"s","type":"nominal"}}},
{"data":{"name":"amod"},"transform":[{"filter":"datum.s=='noCO'"}],"mark":{"type":"line","strokeWidth":1.2,"clip":true},
"encoding":{"x":{"field":"w","type":"quantitative"},"y":{"field":"v","type":"quantitative"},"color":{"field":"s","type":"nominal"}}},
{"data":{"name":"amod"},"transform":[{"filter":"datum.s=='noCO2'"}],"mark":{"type":"line","strokeWidth":1.2,"clip":true},
"encoding":{"x":{"field":"w","type":"quantitative"},"y":{"field":"v","type":"quantitative"},"color":{"field":"s","type":"nominal"}}},
{"data":{"name":"amod"},"transform":[{"filter":"datum.s=='noK'"}],"mark":{"type":"line","strokeWidth":1.2,"clip":true},
"encoding":{"x":{"field":"w","type":"quantitative"},"y":{"field":"v","type":"quantitative"},"color":{"field":"s","type":"nominal"}}},
{"data":{"name":"amod"},"transform":[{"filter":"datum.s=='ref'"}],"mark":{"type":"line","strokeWidth":2,"clip":true},
"encoding":{"x":{"field":"w","type":"quantitative"},"y":{"field":"v","type":"quantitative"},"color":{"field":"s","type":"nominal"}}},
{"data":{"values":[{"t":"(a)"}]},"mark":{"type":"text","align":"left","baseline":"top","fontSize":8.5,"color":"#222"},
"encoding":{"x":{"datum":0.612},"y":{"datum":2.241},"text":{"field":"t"}}}
]},
{"width":343,"height":31,
"encoding":{"x":{"type":"quantitative","scale":{"type":"log","domain":[0.6,2.821],"nice":false},
"axis":{"values":[0.6,0.88,1.16,1.44,1.72,2.0,2.3,2.8],"labelExpr":"datum.value==2?'2.0':format(datum.value,'.3~g')","title":null,"labelPadding":3,"tickSize":4,"labelOverlap":false,"labelFlush":false}},
"y":{"type":"quantitative","scale":{"domain":[-72,73],"nice":false,"zero":false},"axis":{"values":[-50,0,50],"title":["residuals","[ppm]"],"titlePadding":3,"labelOverlap":false}}},
"layer":[
{"data":{"values":[{"z":0}]},"mark":{"type":"rule","color":"#111","strokeWidth":0.9},"encoding":{"y":{"field":"z","type":"quantitative"}}},
{"data":{"name":"obs"},"mark":{"type":"point","shape":"circle","filled":false,"size":9,"color":"#8a8a8a","strokeWidth":0.55,"opacity":1},
"encoding":{"x":{"field":"w","type":"quantitative"},"y":{"field":"r","type":"quantitative"}}},
{"data":{"values":[{"t":"(b)"}]},"mark":{"type":"text","align":"left","baseline":"top","fontSize":8.5,"color":"#222"},
"encoding":{"x":{"datum":0.612},"y":{"datum":63},"text":{"field":"t"}}}
]}
],"spacing":0,"bounds":"flush","resolve":{"scale":{"color":"independent"},"legend":{"color":"independent"}}},
{"vconcat":[
{"width":343,"height":52,"data":{"name":"csp"},
"encoding":{"x":{"field":"w","type":"quantitative","scale":{"type":"log","domain":[0.6,2.821],"nice":false},"axis":null},
"y":{"field":"v","type":"quantitative","scale":{"domain":[-28,-19.9],"nice":false,"zero":false},"axis":{"values":[-28,-25,-22],"title":"log₁₀σ [m²]","titleY":52,"labelOverlap":false}}},
"layer":[
{"mark":{"type":"area","fillOpacity":0.1,"clip":true},
"encoding":{"y":{"field":"v","type":"quantitative","stack":null},"y2":{"datum":-28},
"color":{"field":"sp","type":"nominal"}}},
{"mark":{"type":"line","strokeWidth":1.4,"clip":true},
"encoding":{"color":{"field":"sp","type":"nominal","scale":{"domain":["H₂O","CO","CO₂","Na","K"],"range":["#f08a3e","#1f7fc6","#86bd6b","#9c2f57","#f3e030"]},
"legend":{"title":null,"orient":"none","legendX":66,"legendY":1,"direction":"horizontal","columns":5,"gridAlign":"all","symbolType":"M-1,0H3","symbolStrokeWidth":2.4,"symbolSize":49,"labelFontSize":6.5,"labelOffset":10,"columnPadding":4,"padding":2,"strokeColor":"#dddddd","fillColor":"rgba(255,255,255,0.85)","cornerRadius":2}}}},
{"data":{"values":[{"t":"(c)"}]},"mark":{"type":"text","align":"left","baseline":"top","fontSize":8.5,"color":"#222"},
"encoding":{"x":{"datum":0.612},"y":{"datum":-20.8},"text":{"field":"t"}}}
]},
{"width":343,"height":51,"data":{"name":"dsp"},
"encoding":{"x":{"field":"w","type":"quantitative","scale":{"type":"log","domain":[0.6,2.821],"nice":false},
"axis":{"values":[0.6,0.88,1.16,1.44,1.72,2.0,2.3,2.8],"labelExpr":"datum.value==2?'2.0':format(datum.value,'.3~g')","title":"wavelength [μm]","labelPadding":3,"tickSize":4,"titlePadding":2,"labelOverlap":false,"labelFlush":false}},
"y":{"field":"v","type":"quantitative","scale":{"domain":[-28,-19.9],"nice":false,"zero":false},"axis":{"values":[-28,-25,-22],"title":null,"labelOverlap":false}}},
"layer":[
{"mark":{"type":"area","fillOpacity":0.1,"clip":true},
"encoding":{"y":{"field":"v","type":"quantitative","stack":null},"y2":{"datum":-28},
"color":{"field":"sp","type":"nominal"}}},
{"mark":{"type":"line","strokeWidth":1.4,"clip":true},
"encoding":{"color":{"field":"sp","type":"nominal","scale":{"domain":["CH₄","NH₃","SO₂","PH₃","H₂S"],"range":["#0e3a5c","#7a4ea3","#c24a9c","#ee5560","#f4c24c"]},
"legend":{"title":null,"orient":"none","legendX":59,"legendY":0,"direction":"horizontal","columns":5,"gridAlign":"all","symbolType":"M-1,0H3","symbolStrokeWidth":2.4,"symbolSize":49,"labelFontSize":6.5,"labelOffset":10,"columnPadding":4,"padding":2,"strokeColor":"#dddddd","fillColor":"rgba(255,255,255,0.85)","cornerRadius":2}}}},
{"data":{"values":[{"t":"(d)"}]},"mark":{"type":"text","align":"left","baseline":"top","fontSize":8.5,"color":"#222"},
"encoding":{"x":{"datum":0.612},"y":{"datum":-20.7},"text":{"field":"t"}}}
]}
],"spacing":0,"bounds":"flush","resolve":{"scale":{"color":"independent"},"legend":{"color":"independent"}}}
]
}
